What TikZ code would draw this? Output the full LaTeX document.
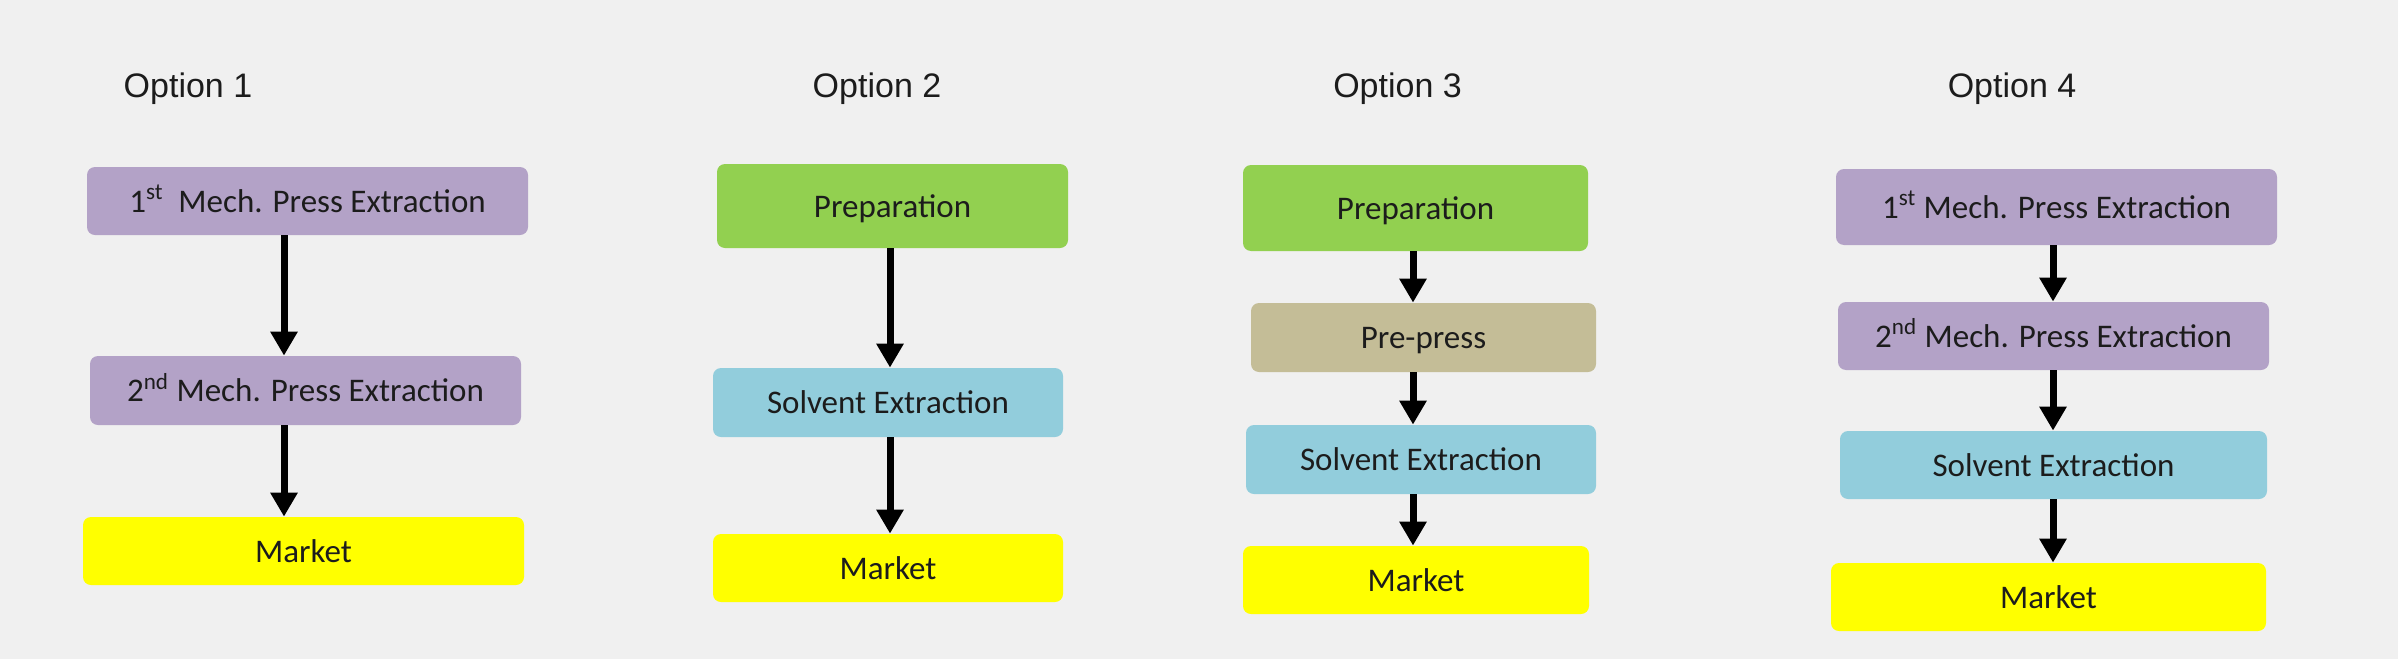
\documentclass[tikz,border=0pt]{standalone}
\usepackage{fontspec}
\setmainfont{Carlito}
\newfontfamily\arialf{Liberation Sans}
\usetikzlibrary{arrows.meta}
\definecolor{bgc}{HTML}{F0F0F0}
\definecolor{txt}{HTML}{1C1C1C}
\definecolor{purp}{HTML}{B3A2C7}
\definecolor{grn}{HTML}{92D050}
\definecolor{blu}{HTML}{92CDDC}
\definecolor{tan}{HTML}{C4BD97}
\definecolor{yel}{HTML}{FFFF00}
\begin{document}
\begin{tikzpicture}[x=0.5pt,y=-0.5pt,
  box/.style={rounded corners=4pt, inner sep=0pt, text=txt, text height=1.12em, text depth=0pt, font=\fontsize{16.5}{19}\selectfont},
  title/.style={anchor=base, text=txt, font=\arialf\fontsize{17}{20}\selectfont},
  arr/.style={line width=3.5pt, draw=black, -{Triangle[width=13pt,length=12pt]}}
]
\fill[bgc] (0,0) rectangle (2398,659);
\useasboundingbox (0,0) rectangle (2398,659);

% Option 1
\node[title] (t1) at (188,97) {Option 1};
\node[box,fill=purp,minimum width=220.5pt,minimum height=34pt] (b11) at (307.5,201) {1\textsuperscript{st}\ \ Mech. Press Extraction};
\node[box,fill=purp,minimum width=215.5pt,minimum height=34.5pt] (b12) at (305.5,390.5) {2\textsuperscript{nd} Mech. Press Extraction};
\node[box,fill=yel,minimum width=220.5pt,minimum height=34pt] (b13) at (303.5,551) {Market};
\coordinate (a1) at (284,0);
\draw[arr] (b11.south -| a1) -- (b12.north -| a1);
\draw[arr] (b12.south -| a1) -- (b13.north -| a1);

% Option 2
\node[title] (t2) at (877,97) {Option 2};
\node[box,fill=grn,minimum width=175.5pt,minimum height=42pt] (p2) at (892.5,206) {Preparation};
\node[box,fill=blu,minimum width=175pt,minimum height=34.5pt] (s2) at (888,402.5) {Solvent Extraction};
\node[box,fill=yel,minimum width=175pt,minimum height=34pt] (m2) at (888,568) {Market};
\coordinate (a2) at (890,0);
\draw[arr] (p2.south -| a2) -- (s2.north -| a2);
\draw[arr] (s2.south -| a2) -- (m2.north -| a2);

% Option 3
\node[title] (t3) at (1397.5,97) {Option 3};
\node[box,fill=grn,minimum width=172.5pt,minimum height=43pt] (p3) at (1415.5,208) {Preparation};
\node[box,fill=tan,minimum width=172.5pt,minimum height=34.5pt] (pp3) at (1423.5,337.5) {Pre-press};
\node[box,fill=blu,minimum width=175pt,minimum height=34.5pt] (s3) at (1421,459.5) {Solvent Extraction};
\node[box,fill=yel,minimum width=173pt,minimum height=34pt] (m3) at (1416,580) {Market};
\coordinate (a3) at (1413,0);
\draw[arr] (p3.south -| a3) -- (pp3.north -| a3);
\draw[arr] (pp3.south -| a3) -- (s3.north -| a3);
\draw[arr] (s3.south -| a3) -- (m3.north -| a3);

% Option 4
\node[title] (t4) at (2012,97) {Option 4};
\node[box,fill=purp,minimum width=220.5pt,minimum height=38pt] (b41) at (2056.5,207) {1\textsuperscript{st} Mech. Press Extraction};
\node[box,fill=purp,minimum width=215.5pt,minimum height=34pt] (b42) at (2053.5,336) {2\textsuperscript{nd} Mech. Press Extraction};
\node[box,fill=blu,minimum width=213.5pt,minimum height=34pt] (s4) at (2053.5,465) {Solvent Extraction};
\node[box,fill=yel,minimum width=217.5pt,minimum height=34pt] (m4) at (2048.5,597) {Market};
\coordinate (a4) at (2053,0);
\draw[arr] (b41.south -| a4) -- (b42.north -| a4);
\draw[arr] (b42.south -| a4) -- (s4.north -| a4);
\draw[arr] (s4.south -| a4) -- (m4.north -| a4);
\end{tikzpicture}
\end{document}
